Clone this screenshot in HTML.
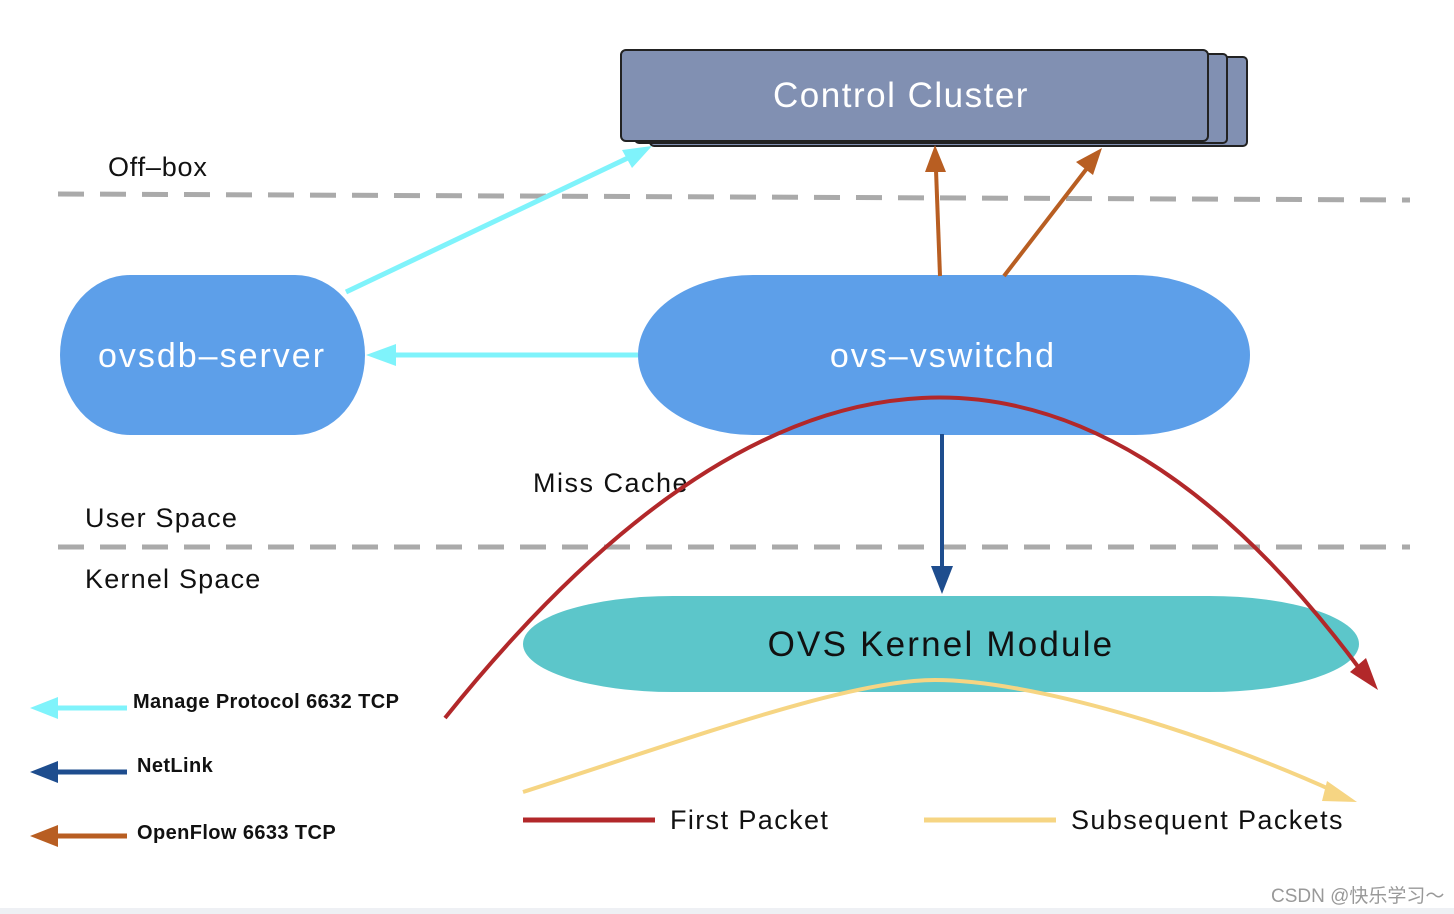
<!DOCTYPE html>
<html><head><meta charset="utf-8"><style>
html,body{margin:0;padding:0;background:#fff;}
svg{display:block;}
text{font-family:"Liberation Sans","Noto Sans CJK SC",sans-serif;}
</style></head><body>
<svg width="1454" height="914" viewBox="0 0 1454 914" xmlns="http://www.w3.org/2000/svg">
<!-- control cluster -->
<rect x="650" y="57" width="597" height="89" rx="4" fill="#8190b2" stroke="#222" stroke-width="2"/>
<rect x="635" y="54" width="592" height="89" rx="4" fill="#8190b2" stroke="#222" stroke-width="2"/>
<rect x="621" y="50" width="587" height="91" rx="5" fill="#8190b2" stroke="#222" stroke-width="2"/>
<text x="901" y="107" font-size="35" letter-spacing="1.5" fill="#fff" text-anchor="middle">Control Cluster</text>
<!-- dashed lines -->
<line x1="58" y1="194" x2="1410" y2="200" stroke="#aaa" stroke-width="5" stroke-dasharray="26,16"/>
<line x1="58" y1="547" x2="1410" y2="547" stroke="#aaa" stroke-width="5" stroke-dasharray="26,16"/>
<text x="108" y="176" font-size="27" letter-spacing="0.8" fill="#111">Off–box</text>
<text x="85" y="527" font-size="27" letter-spacing="1.2" fill="#111">User Space</text>
<text x="85" y="588" font-size="27" letter-spacing="1.2" fill="#111">Kernel Space</text>
<text x="533" y="492" font-size="27" letter-spacing="1.5" fill="#111">Miss Cache</text>
<!-- nodes -->
<rect x="60" y="275" width="305" height="160" rx="70" ry="80" fill="#5d9fe9"/>
<text x="212" y="367" font-size="34" letter-spacing="2" fill="#fff" text-anchor="middle">ovsdb–server</text>
<rect x="638" y="275" width="612" height="160" rx="115" ry="80" fill="#5d9fe9"/>
<text x="943" y="367" font-size="34" letter-spacing="2" fill="#fff" text-anchor="middle">ovs–vswitchd</text>
<rect x="523" y="596" width="836" height="96" rx="150" ry="48" fill="#5cc6ca"/>
<text x="941" y="656" font-size="35" letter-spacing="2.2" fill="#111" text-anchor="middle">OVS Kernel Module</text>
<!-- cyan arrows -->
<line x1="346" y1="292" x2="632" y2="156" stroke="#7ff3fb" stroke-width="5"/>
<polygon points="652,146 622,150 632,168" fill="#7ff3fb"/>
<line x1="638" y1="355" x2="390" y2="355" stroke="#7ff3fb" stroke-width="5"/>
<polygon points="366,355 396,344 396,366" fill="#7ff3fb"/>
<!-- orange -->
<line x1="940" y1="276" x2="936" y2="170" stroke="#b85e22" stroke-width="4"/>
<polygon points="935,145 925,172 946,172" fill="#b85e22"/>
<line x1="1004" y1="276" x2="1088" y2="167" stroke="#b85e22" stroke-width="4"/>
<polygon points="1102,148 1076,162 1093,175" fill="#b85e22"/>
<!-- netlink -->
<line x1="942" y1="434" x2="942" y2="568" stroke="#1e4d8e" stroke-width="4"/>
<polygon points="942,594 931,566 953,566" fill="#1e4d8e"/>
<!-- red curve -->
<path d="M445,718 Q940,101 1362,672" fill="none" stroke="#b2282a" stroke-width="4"/>
<polygon points="1378,690 1350,672 1366,658" fill="#b2282a"/>
<!-- yellow -->
<path d="M523,792 C700,735 850,680 935,680 C1030,680 1200,730 1338,793" fill="none" stroke="#f6d583" stroke-width="4"/>
<polygon points="1357,802 1327,781 1322,801" fill="#f6d583"/>
<!-- legend -->
<line x1="55" y1="708" x2="127" y2="708" stroke="#7ff3fb" stroke-width="5"/>
<polygon points="30,708 58,697 58,719" fill="#7ff3fb"/>
<text x="133" y="708" font-size="20" font-weight="bold" letter-spacing="0.4" fill="#111">Manage Protocol 6632 TCP</text>
<line x1="55" y1="772" x2="127" y2="772" stroke="#1e4d8e" stroke-width="5"/>
<polygon points="30,772 58,761 58,783" fill="#1e4d8e"/>
<text x="137" y="772" font-size="20" font-weight="bold" letter-spacing="0.4" fill="#111">NetLink</text>
<line x1="55" y1="836" x2="127" y2="836" stroke="#b85e22" stroke-width="5"/>
<polygon points="30,836 58,825 58,847" fill="#b85e22"/>
<text x="137" y="839" font-size="20" font-weight="bold" letter-spacing="0.4" fill="#111">OpenFlow 6633 TCP</text>
<line x1="523" y1="820" x2="655" y2="820" stroke="#b2282a" stroke-width="5"/>
<text x="670" y="829" font-size="27" letter-spacing="1.4" fill="#111">First Packet</text>
<line x1="924" y1="820" x2="1056" y2="820" stroke="#f6d583" stroke-width="5"/>
<text x="1071" y="829" font-size="27" letter-spacing="1.4" fill="#111">Subsequent Packets</text>
<text x="1271" y="902" font-size="19" fill="#999">CSDN @快乐学习～</text>
<rect x="0" y="908" width="1454" height="6" fill="#eef0f4"/>
</svg>
</body></html>
